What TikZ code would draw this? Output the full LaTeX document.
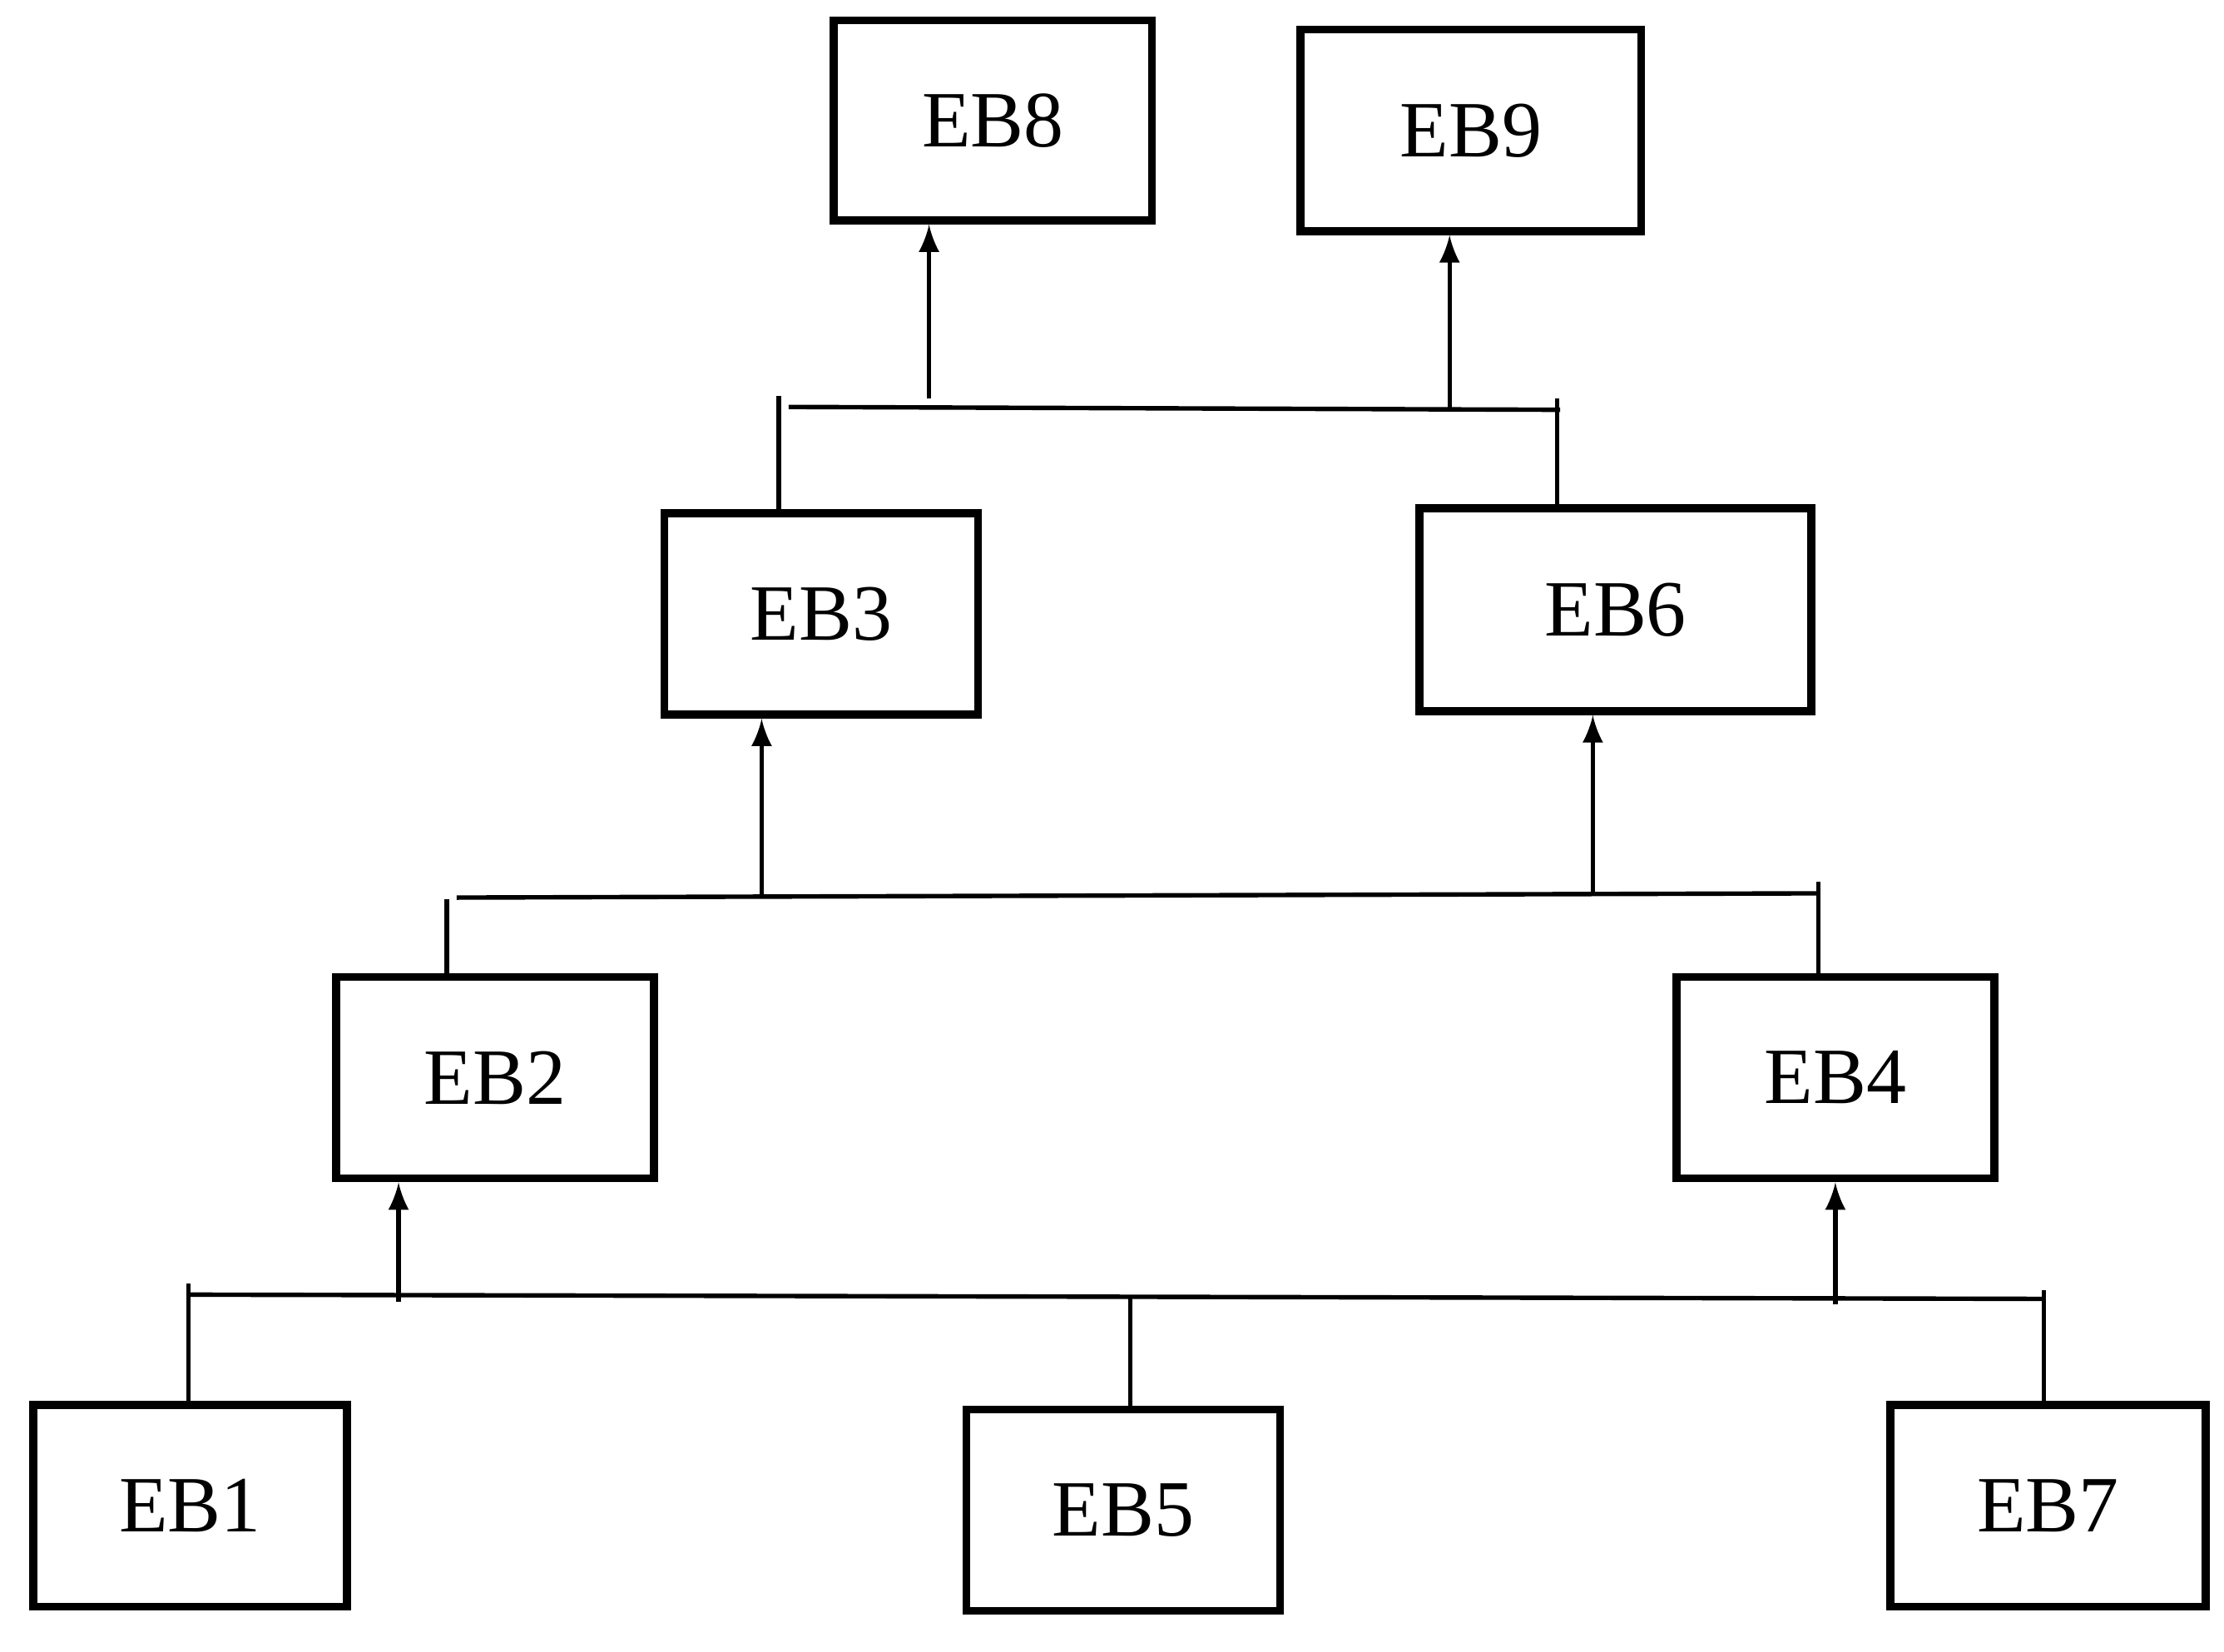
\documentclass[tikz,border=0pt]{standalone}
\usepackage{fontspec}
\setmainfont{Liberation Serif}
\usetikzlibrary{arrows}
\begin{document}
\begin{tikzpicture}[x=0.01cm,y=-0.01cm,>=latex,
    eb node/.style={draw,line width=1.6pt,inner sep=0pt,font=\fontsize{16}{19}\selectfont},
    bus/.style={-,line width=0.9pt},
    up/.style={->,line width=0.9pt}]
   \useasboundingbox (0,0) rectangle (1568,1165);
   % boxes
   \node[eb node,minimum width=224\pgflinewidth,minimum width=2.24cm,minimum height=1.41cm] (eb8) at (700,85) {EB8};
   \node[eb node,minimum width=2.40cm,minimum height=1.42cm] (eb9) at (1037,92) {EB9};
   \node[eb node,minimum width=2.21cm,minimum height=1.42cm] (eb3) at (579,433) {EB3};
   \node[eb node,minimum width=2.76cm,minimum height=1.43cm] (eb6) at (1139,430) {EB6};
   \node[eb node,minimum width=2.24cm,minimum height=1.42cm] (eb2) at (349,760) {EB2};
   \node[eb node,minimum width=2.24cm,minimum height=1.42cm] (eb4) at (1294,760) {EB4};
   \node[eb node,minimum width=2.21cm,minimum height=1.42cm] (eb1) at (134,1062) {EB1};
   \node[eb node,minimum width=2.21cm,minimum height=1.42cm] (eb5) at (792,1065) {EB5};
   \node[eb node,minimum width=2.22cm,minimum height=1.42cm] (eb7) at (1444,1062) {EB7};
   % bus lines
   \coordinate (t1) at (556,287); \coordinate (t2) at (1100,289);
   \coordinate (m1) at (322,633); \coordinate (m2) at (1283,630);
   \coordinate (b1) at (133,913); \coordinate (b2) at (1441,916);
   \draw[bus] (t1) -- (t2);
   \draw[bus] (m1) -- (m2);
   \draw[bus] (b1) -- (b2);
   % risers
   \draw[bus] (eb3.north -| 549,0) -- (549,279);
   \draw[bus] (eb6.north -| 1098,0) -- (1098,281);
   \draw[bus] (eb2.north -| 315,0) -- (315,634);
   \draw[bus] (eb4.north -| 1282,0) -- (1282,622);
   \draw[bus] (133,989) -- (133,905);
   \draw[bus] (eb5.north -| 797,0) -- (797,914);
   \draw[bus] (1441,993) -- (1441,910);
   % arrows
   \draw[up] (655,281) -- (eb8.south -| 655,0);
   \draw[up] (1022,290) -- (eb9.south -| 1022,0);
   \draw[up] (537,632) -- (eb3.south -| 537,0);
   \draw[up] (1123,630) -- (eb6.south -| 1123,0);
   \draw[up] (281,918) -- (eb2.south -| 281,0);
   \draw[up] (1294,920) -- (eb4.south -| 1294,0);
\end{tikzpicture}
\end{document}
